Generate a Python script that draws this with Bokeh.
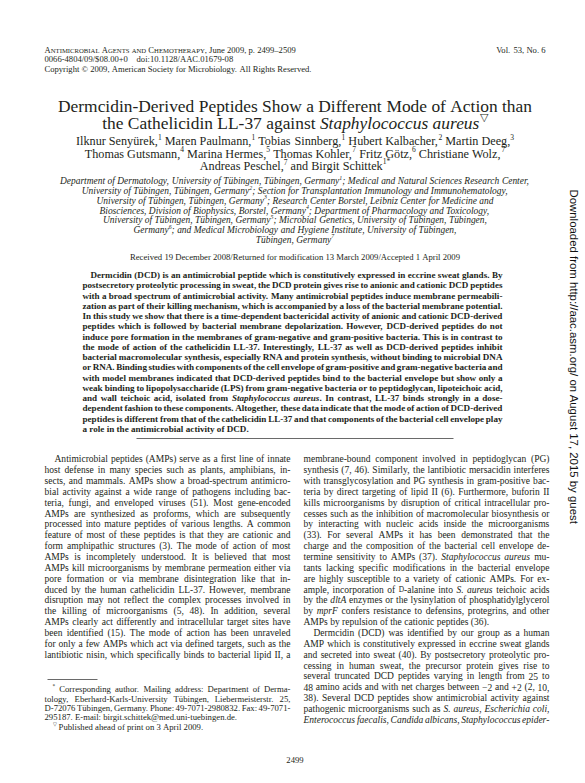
import math
from bokeh.plotting import figure
from bokeh.models import ColumnDataSource, Range1d
from bokeh.core.properties import value, field
from bokeh.embed import file_html
from bokeh.resources import INLINE

# ---------------- page content ----------------
HEADER_LINES = [
    "~Antimicrobial Agents and Chemotherapy~, June 2009, p. 2499–2509",
    "0066-4804/09/$08.00+0    doi:10.1128/AAC.01679-08",
    "Copyright © 2009, American Society for Microbiology. All Rights Reserved.",
]
HEADER_RIGHT = "Vol. 53, No. 6"

TITLE_LINES = [
    "Dermcidin-Derived Peptides Show a Different Mode of Action than",
    "the Cathelicidin LL-37 against _Staphylococcus aureus_^▽^",
]

AUTHOR_LINES = [
    "Ilknur Senyürek,^1^ Maren Paulmann,^1^ Tobias Sinnberg,^1^ Hubert Kalbacher,^2^ Martin Deeg,^3^",
    "Thomas Gutsmann,^4^ Marina Hermes,^5^ Thomas Kohler,^7^ Fritz Götz,^6^ Christiane Wolz,^7^",
    "Andreas Peschel,^7^ and Birgit Schittek^1*^",
]

AFFIL_LINES = [
    "Department of Dermatology, University of Tübingen, Tübingen, Germany^1^; Medical and Natural Sciences Research Center,",
    "University of Tübingen, Tübingen, Germany^2^; Section for Transplantation Immunology and Immunohematology,",
    "University of Tübingen, Tübingen, Germany^3^; Research Center Borstel, Leibniz Center for Medicine and",
    "Biosciences, Division of Biophysics, Borstel, Germany^4^; Department of Pharmacology and Toxicology,",
    "University of Tübingen, Tübingen, Germany^5^; Microbial Genetics, University of Tübingen, Tübingen,",
    "Germany^6^; and Medical Microbiology and Hygiene Institute, University of Tübingen,",
    "Tübingen, Germany^7^",
]

RECEIVED = "Received 19 December 2008/Returned for modification 13 March 2009/Accepted 1 April 2009"

ABSTRACT_LINES = [
    "Dermcidin (DCD) is an antimicrobial peptide which is constitutively expressed in eccrine sweat glands. By",
    "postsecretory proteolytic processing in sweat, the DCD protein gives rise to anionic and cationic DCD peptides",
    "with a broad spectrum of antimicrobial activity. Many antimicrobial peptides induce membrane permeabili-",
    "zation as part of their killing mechanism, which is accompanied by a loss of the bacterial membrane potential.",
    "In this study we show that there is a time-dependent bactericidal activity of anionic and cationic DCD-derived",
    "peptides which is followed by bacterial membrane depolarization. However, DCD-derived peptides do not",
    "induce pore formation in the membranes of gram-negative and gram-positive bacteria. This is in contrast to",
    "the mode of action of the cathelicidin LL-37. Interestingly, LL-37 as well as DCD-derived peptides inhibit",
    "bacterial macromolecular synthesis, especially RNA and protein synthesis, without binding to microbial DNA",
    "or RNA. Binding studies with components of the cell envelope of gram-positive and gram-negative bacteria and",
    "with model membranes indicated that DCD-derived peptides bind to the bacterial envelope but show only a",
    "weak binding to lipopolysaccharide (LPS) from gram-negative bacteria or to peptidoglycan, lipoteichoic acid,",
    "and wall teichoic acid, isolated from _Staphylococcus aureus_. In contrast, LL-37 binds strongly in a dose-",
    "dependent fashion to these components. Altogether, these data indicate that the mode of action of DCD-derived",
    "peptides is different from that of the cathelicidin LL-37 and that components of the bacterial cell envelope play",
    "a role in the antimicrobial activity of DCD.",
]

LEFT_COLUMN = [
    "Antimicrobial peptides (AMPs) serve as a first line of innate",
    "host defense in many species such as plants, amphibians, in-",
    "sects, and mammals. AMPs show a broad-spectrum antimicro-",
    "bial activity against a wide range of pathogens including bac-",
    "teria, fungi, and enveloped viruses (51). Most gene-encoded",
    "AMPs are synthesized as proforms, which are subsequently",
    "processed into mature peptides of various lengths. A common",
    "feature of most of these peptides is that they are cationic and",
    "form amphipathic structures (3). The mode of action of most",
    "AMPs is incompletely understood. It is believed that most",
    "AMPs kill microorganisms by membrane permeation either via",
    "pore formation or via membrane disintegration like that in-",
    "duced by the human cathelicidin LL-37. However, membrane",
    "disruption may not reflect the complex processes involved in",
    "the killing of microorganisms (5, 48). In addition, several",
    "AMPs clearly act differently and intracellular target sites have",
    "been identified (15). The mode of action has been unraveled",
    "for only a few AMPs which act via defined targets, such as the",
    "lantibiotic nisin, which specifically binds to bacterial lipid II, a",
]
LEFT_INDENT = [0]
LEFT_PARA_END = []

RIGHT_COLUMN = [
    "membrane-bound component involved in peptidoglycan (PG)",
    "synthesis (7, 46). Similarly, the lantibiotic mersacidin interferes",
    "with transglycosylation and PG synthesis in gram-positive bac-",
    "teria by direct targeting of lipid II (6). Furthermore, buforin II",
    "kills microorganisms by disruption of critical intracellular pro-",
    "cesses such as the inhibition of macromolecular biosynthesis or",
    "by interacting with nucleic acids inside the microorganisms",
    "(33). For several AMPs it has been demonstrated that the",
    "charge and the composition of the bacterial cell envelope de-",
    "termine sensitivity to AMPs (37). _Staphylococcus aureus_ mu-",
    "tants lacking specific modifications in the bacterial envelope",
    "are highly susceptible to a variety of cationic AMPs. For ex-",
    "ample, incorporation of ~d~-alanine into _S. aureus_ teichoic acids",
    "by the _dltA_ enzymes or the lysinylation of phosphatidylglycerol",
    "by _mprF_ confers resistance to defensins, protegrins, and other",
    "AMPs by repulsion of the cationic peptides (36).",
    "Dermcidin (DCD) was identified by our group as a human",
    "AMP which is constitutively expressed in eccrine sweat glands",
    "and secreted into sweat (40). By postsecretory proteolytic pro-",
    "cessing in human sweat, the precursor protein gives rise to",
    "several truncated DCD peptides varying in length from 25 to",
    "48 amino acids and with net charges between −2 and +2 (2, 10,",
    "38). Several DCD peptides show antimicrobial activity against",
    "pathogenic microorganisms such as _S. aureus_, _Escherichia coli_,",
    "_Enterococcus faecalis_, _Candida albicans_, _Staphylococcus epider-_",
]
RIGHT_INDENT = [16]
RIGHT_PARA_END = [15]

FOOTNOTE_LINES = [
    "^*^ Corresponding author. Mailing address: Department of Derma-",
    "tology, Eberhard-Karls-University Tübingen, Liebermeisterstr. 25,",
    "D-72076 Tübingen, Germany. Phone: 49-7071-2980832. Fax: 49-7071-",
    "295187. E-mail: birgit.schittek@med.uni-tuebingen.de.",
    "^▽^ Published ahead of print on 3 April 2009.",
]
FOOT_INDENT = [0, 4]
FOOT_PARA_END = [3, 4]

PAGE_NUMBER = "2499"
SIDE_NOTE = "Downloaded from http://aac.asm.org/ on August 17, 2015 by guest"

# ---------------- layout (window pixels) ----------------
TEXT_COLOR = "#231f20"
SERIF = "Liberation Serif"
SANS = "Liberation Sans"

HEADER_X, HEADER_RIGHT_X, HEADER_Y, HEADER_STEP = 44, 545, 47, 9.3
HEADER_FIT_W = 267
CENTER_X = 294.5
TITLE_Y, TITLE_STEP, TITLE_FIT_W = 100, 17.5, 474
AUTHOR_Y, AUTHOR_STEP, AUTHOR_FIT_W = 137, 12.6, 438
AFFIL_Y, AFFIL_STEP, AFFIL_FIT_W = 178, 9.75, 470
RECEIVED_Y, RECEIVED_FIT_W = 254, 330
ABS_X0, ABS_X1, ABS_Y, ABS_STEP, ABS_INDENT = 82, 502, 272, 10.25, 8
RULE = (136, 453, 438)
LCOL = (44, 290)
RCOL = (303, 549)
BODY_Y, BODY_STEP, BODY_INDENT = 456, 10.85, 10
FOOT_RULE = (47, 97, 679)
FOOT_Y, FOOT_STEP, FOOT_INDENT_PX = 686, 9.4, 8
PAGE_NUM_Y = 757
SIDE_X, SIDE_Y0, SIDE_SIZE = 573, 189, 11.4
MIN_SPACE = 0.17

# ---------------- font metrics (1/1000 em) ----------------
PUNCT = " !\"#$%&'()*+,-./"
DIG = "0123456789"
P2 = ":;<=>?@"
UP = "ABCDEFGHIJKLMNOPQRSTUVWXYZ"
LO = "abcdefghijklmnopqrstuvwxyz"


def mk(punct, p2, up, lo):
    t = dict(zip(PUNCT, punct))
    t.update(zip(DIG, [500] * 10))
    t.update(zip(P2, p2))
    t.update(zip(UP, up))
    t.update(zip(LO, lo))
    return t


M_R = mk([250, 333, 408, 500, 500, 833, 778, 180, 333, 333, 500, 564, 250, 333, 250, 278],
         [278, 278, 564, 564, 564, 444, 921],
         [722, 667, 667, 722, 611, 556, 722, 722, 333, 389, 722, 611, 889, 722, 722, 556, 722, 667, 556, 611, 722, 722, 944, 722, 722, 611],
         [444, 500, 444, 500, 444, 333, 500, 500, 278, 278, 500, 278, 778, 500, 500, 500, 500, 333, 389, 278, 500, 500, 722, 500, 500, 444])
M_I = mk([250, 333, 420, 500, 500, 833, 778, 214, 333, 333, 500, 675, 250, 333, 250, 278],
         [333, 333, 675, 675, 675, 500, 920],
         [611, 611, 667, 722, 611, 611, 722, 722, 333, 444, 667, 556, 833, 667, 722, 611, 722, 611, 500, 556, 722, 611, 833, 611, 556, 556],
         [500, 500, 444, 500, 444, 278, 500, 500, 278, 278, 444, 278, 722, 500, 500, 500, 500, 389, 389, 278, 500, 444, 667, 444, 444, 389])
M_B = mk([250, 333, 555, 500, 500, 1000, 833, 278, 333, 333, 500, 570, 250, 333, 250, 278],
         [333, 333, 570, 570, 570, 500, 930],
         [722, 667, 722, 722, 667, 611, 778, 778, 389, 500, 778, 667, 944, 722, 778, 611, 778, 722, 556, 667, 722, 722, 1000, 722, 722, 667],
         [500, 556, 444, 556, 444, 333, 500, 556, 278, 333, 556, 278, 833, 556, 500, 556, 556, 444, 389, 333, 556, 500, 722, 500, 500, 444])
M_BI = mk([250, 389, 555, 500, 500, 833, 778, 278, 333, 333, 500, 570, 250, 333, 250, 278],
          [333, 333, 570, 570, 570, 500, 832],
          [667, 667, 667, 722, 667, 667, 722, 778, 389, 500, 667, 611, 889, 722, 722, 611, 722, 667, 556, 611, 722, 667, 889, 667, 611, 611],
          [500, 500, 444, 500, 444, 333, 500, 556, 278, 278, 500, 278, 778, 556, 500, 500, 500, 389, 389, 278, 556, 444, 667, 500, 444, 389])
TABLES = {"r": M_R, "i": M_I, "b": M_B, "bi": M_BI}
EXTRA = {"–": 500, "−": 564, "©": 760, "▽": 720, "—": 1000}
ACCENT = {"ü": "u", "ö": "o", "Ü": "U"}


def char_w(ch, style):
    t = TABLES[style]
    if ch in t:
        return t[ch]
    if ch in ACCENT:
        return t[ACCENT[ch]]
    return EXTRA.get(ch, 500)


def style_of(base, italic):
    if not italic:
        return base
    return {"r": "i", "i": "r", "b": "bi", "bi": "b"}[base]


def parse(line):
    italic = sup = sc = False
    words = [[]]
    for ch in line:
        if ch == "_":
            italic = not italic
            continue
        if ch == "^":
            sup = not sup
            continue
        if ch == "~":
            sc = not sc
            continue
        if ch == " " and not sup:
            words.append([])
        else:
            words[-1].append((ch, italic, sup, sc))
    return words


def runs_of(word, base, size):
    runs = []
    for ch, it, sup, sc in word:
        st = style_of(base, it)
        s, dy, c = size, 0.0, ch
        if sup:
            s, dy = size * 0.62, -0.36 * size
        if sc and ch.islower():
            c, s = ch.upper(), s * 0.78
        if runs and runs[-1][1] == st and runs[-1][2] == s and runs[-1][3] == dy:
            runs[-1][0] += c
        else:
            runs.append([c, st, s, dy])
    return runs


def run_w(r):
    return sum(char_w(c, r[1]) for c in r[0]) * r[2] / 1000.0


def words_w(line, base, size):
    words = [runs_of(w, base, size) for w in parse(line)]
    return words, [sum(run_w(r) for r in w) for w in words]


def natural(line, base, size=1.0):
    words, ws = words_w(line, base, size)
    return sum(ws) + 0.25 * size * (len(ws) - 1)


SRC = {k: dict(x=[], y=[], text=[], fs=[]) for k in ("r", "i", "b", "bi")}


def layout(line, base, size, x0, x1, y_center, mode, indent=0.0):
    y = y_center + 0.3 * size
    words, ws = words_w(line, base, size)
    n = len(words)
    sp = 0.25 * size
    if mode == "justify" and n > 1:
        gap = (x1 - x0 - indent - sum(ws)) / (n - 1)
        x = x0 + indent
    else:
        gap = sp
        total = sum(ws) + sp * (n - 1)
        x = {"left": x0 + indent, "center": (x0 + x1) / 2 - total / 2, "right": x1 - total}[mode]
    for w, wd in zip(words, ws):
        xx = x
        for r in w:
            d = SRC[r[1]]
            d["x"].append(xx)
            d["y"].append(y + r[3])
            d["text"].append(r[0])
            d["fs"].append("%.2fpx" % r[2])
            xx += run_w(r)
        x += wd + gap


def block_size(lines, base, width, indents, indent_px, ends):
    """Largest size for which every justified line keeps a minimal word space."""
    sizes = []
    for i, ln in enumerate(lines):
        if i in ends:
            continue
        words, ws = words_w(ln, base, 1.0)
        avail = width - (indent_px if i in indents else 0)
        sizes.append(avail / (sum(ws) + MIN_SPACE * (len(ws) - 1)))
    return min(sizes)


# ---------------- compose the page ----------------
hdr_size = HEADER_FIT_W / natural(HEADER_LINES[2], "r")
for k, ln in enumerate(HEADER_LINES):
    layout(ln, "r", hdr_size, HEADER_X, HEADER_X, HEADER_Y + k * HEADER_STEP, "left")
layout(HEADER_RIGHT, "r", hdr_size, HEADER_RIGHT_X, HEADER_RIGHT_X, HEADER_Y, "right")

title_size = TITLE_FIT_W / natural(TITLE_LINES[0], "r")
for k, ln in enumerate(TITLE_LINES):
    layout(ln, "r", title_size, CENTER_X, CENTER_X, TITLE_Y + k * TITLE_STEP, "center")

author_size = AUTHOR_FIT_W / natural(AUTHOR_LINES[0], "r")
for k, ln in enumerate(AUTHOR_LINES):
    layout(ln, "r", author_size, CENTER_X, CENTER_X, AUTHOR_Y + k * AUTHOR_STEP, "center")

affil_size = AFFIL_FIT_W / natural(AFFIL_LINES[0], "i")
for k, ln in enumerate(AFFIL_LINES):
    layout(ln, "i", affil_size, CENTER_X, CENTER_X, AFFIL_Y + k * AFFIL_STEP, "center")

small_size = RECEIVED_FIT_W / natural(RECEIVED, "r")
layout(RECEIVED, "r", small_size, CENTER_X, CENTER_X, RECEIVED_Y, "center")

n_abs = len(ABSTRACT_LINES)
abs_size = block_size(ABSTRACT_LINES, "b", ABS_X1 - ABS_X0, [0], ABS_INDENT, [n_abs - 1])
for k, ln in enumerate(ABSTRACT_LINES):
    mode = "left" if k == n_abs - 1 else "justify"
    layout(ln, "b", abs_size, ABS_X0, ABS_X1, ABS_Y + k * ABS_STEP, mode, ABS_INDENT if k == 0 else 0)

nl = len(LEFT_COLUMN)
body_size = block_size(LEFT_COLUMN + RIGHT_COLUMN, "r", LCOL[1] - LCOL[0],
                       LEFT_INDENT + [nl + i for i in RIGHT_INDENT], BODY_INDENT,
                       [nl + i for i in RIGHT_PARA_END])
for col, (x0, x1), ind, ends in ((LEFT_COLUMN, LCOL, LEFT_INDENT, LEFT_PARA_END),
                                 (RIGHT_COLUMN, RCOL, RIGHT_INDENT, RIGHT_PARA_END)):
    for k, ln in enumerate(col):
        mode = "left" if k in ends else "justify"
        layout(ln, "r", body_size, x0, x1, BODY_Y + k * BODY_STEP, mode, BODY_INDENT if k in ind else 0)

foot_size = block_size(FOOTNOTE_LINES, "r", LCOL[1] - LCOL[0], FOOT_INDENT, FOOT_INDENT_PX, FOOT_PARA_END)
for k, ln in enumerate(FOOTNOTE_LINES):
    mode = "left" if k in FOOT_PARA_END else "justify"
    layout(ln, "r", foot_size, LCOL[0], LCOL[1], FOOT_Y + k * FOOT_STEP, mode,
           FOOT_INDENT_PX if k in FOOT_INDENT else 0)

layout(PAGE_NUMBER, "r", small_size, CENTER_X, CENTER_X, PAGE_NUM_Y, "center")

# ---------------- figure ----------------
p = figure(width=585, height=783, x_range=Range1d(0, 585), y_range=Range1d(783, 0),
           output_backend="svg", toolbar_location=None, x_axis_location=None, y_axis_location=None,
           min_border=0, outline_line_color=None, background_fill_color="white",
           border_fill_color="white")
p.xgrid.visible = False
p.ygrid.visible = False

STYLE_NAMES = {"r": "normal", "i": "italic", "b": "bold", "bi": "bold italic"}
for st, d in SRC.items():
    if not d["x"]:
        continue
    p.text(x="x", y="y", text="text", source=ColumnDataSource(d),
           text_font=value(SERIF), text_font_style=STYLE_NAMES[st],
           text_font_size=field("fs"), text_baseline="alphabetic", text_align="left",
           text_color=TEXT_COLOR)

p.segment(x0=[RULE[0], FOOT_RULE[0]], y0=[RULE[2], FOOT_RULE[2]],
          x1=[RULE[1], FOOT_RULE[1]], y1=[RULE[2], FOOT_RULE[2]],
          line_color="#444444", line_width=0.8)

p.text(x=[SIDE_X], y=[SIDE_Y0], text=[SIDE_NOTE], angle=-math.pi / 2,
       text_font=value(SANS), text_font_size="%.1fpx" % SIDE_SIZE,
       text_baseline="middle", text_align="left", text_color="#111111")

open("out.html", "w").write(file_html(p, INLINE))
